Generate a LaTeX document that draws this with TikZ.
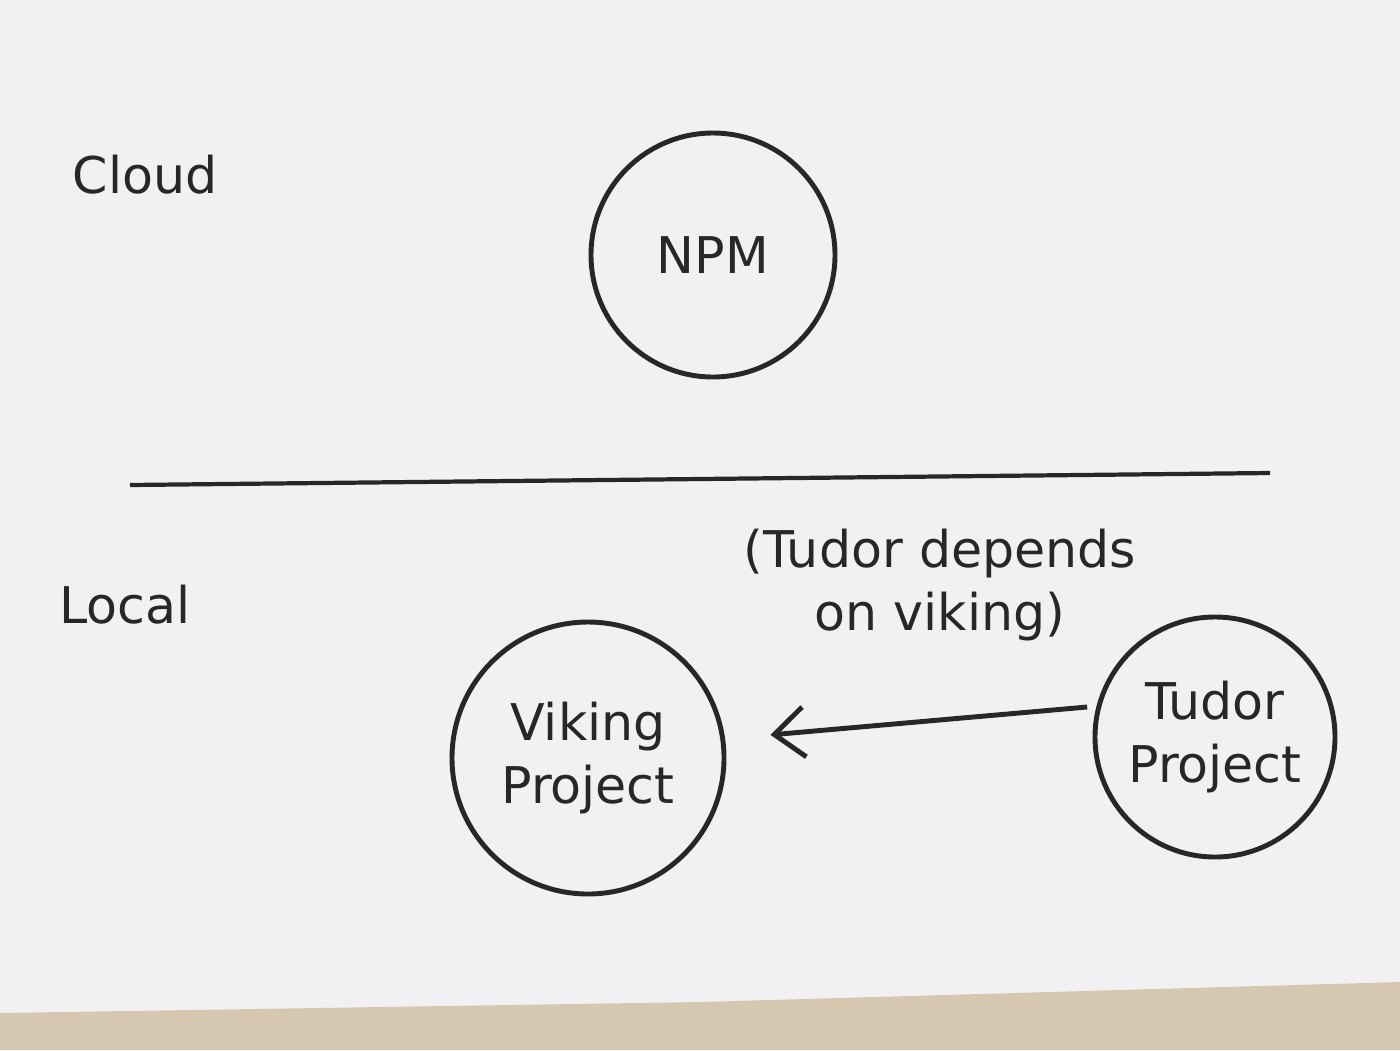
\documentclass[tikz,border=0pt]{standalone}
\usepackage{tkz-graph}
\usepackage{fontspec}
\setmainfont{DejaVu Sans}
\usetikzlibrary{arrows.meta}
\definecolor{paper}{RGB}{241,241,243}
\definecolor{table}{RGB}{214,200,176}
\definecolor{pencil}{RGB}{40,38,40}

\begin{document}
\begin{tikzpicture}[scale=1]
\useasboundingbox (0,0) rectangle (14,-10.5);
\fill[paper] (0,0) rectangle (14,-10.5);
\fill[table] (0,-10.13) -- (7,-10.02) -- (14,-9.82) -- (14,-10.5) -- (0,-10.5) -- cycle;
\GraphInit[vstyle=Normal]
\tikzset{VertexStyle/.style={shape=circle, draw=pencil, line width=1.4pt,
  fill=none, text=pencil, align=center, font=\Large, inner sep=0pt}}
\SetUpEdge[lw=1.4pt, color=pencil]
% Cloud side
\node[text=pencil, font=\Large] (cloud) at (1.45,-1.75) {Cloud};
\Vertex[x=7.13, y=-2.55, L={NPM}, style={minimum size=2.44cm}]{NPM}
% divider
\draw[pencil, line width=1.2pt] (1.3,-4.85) -- (12.7,-4.73);
% Local side
\node[text=pencil, font=\Large] (local) at (1.25,-6.05) {Local};
\Vertex[x=5.88, y=-7.58, L={Viking\\Project}, style={minimum size=2.72cm}]{Viking}
\Vertex[x=12.15, y=-7.37, L={Tudor\\Project}, style={minimum size=2.4cm}]{Tudor}
\node[text=pencil, font=\Large, align=center] (note) at (9.4,-5.85)
  {(Tudor depends\\on viking)};

%%% edges
\draw[pencil, line width=1.4pt, -{Straight Barb[length=3mm, width=5mm]},
  shorten <=0.12cm, shorten >=0.48cm] (Tudor.165) -- (Viking.8);
\end{tikzpicture}
\end{document}
